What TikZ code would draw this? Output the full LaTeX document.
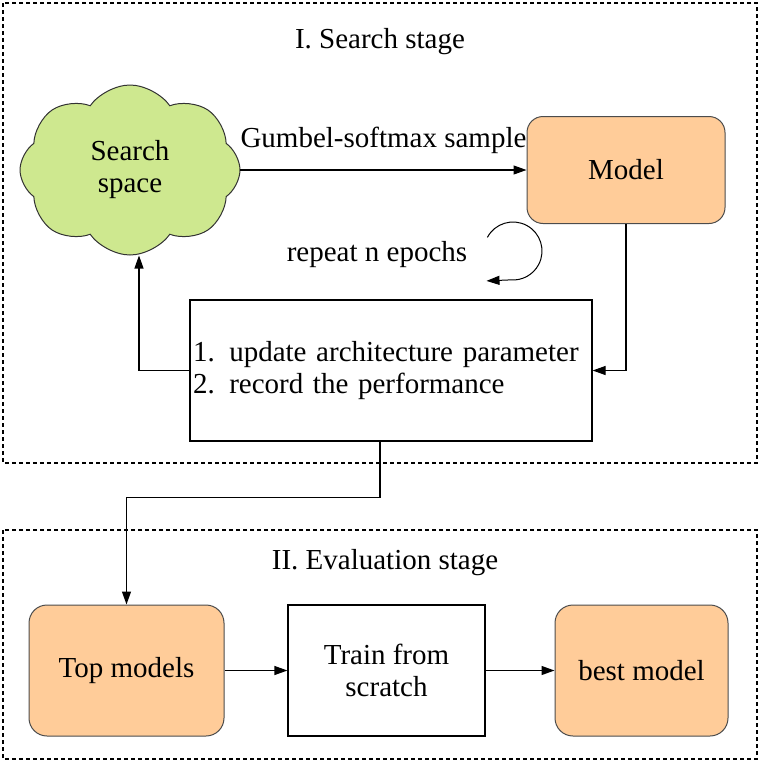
\documentclass[tikz,border=0pt]{standalone}
\usepackage{fontspec}
\setmainfont{Liberation Serif}
\usetikzlibrary{arrows.meta}
\usetikzlibrary{shapes.symbols}
\definecolor{peach}{RGB}{255,204,153}
\definecolor{leaf}{RGB}{206,232,143}

\begin{document}
\begin{tikzpicture}[x=1pt,y=-1pt,
    font=\fontsize{29}{32}\selectfont,
    stage/.style={draw,dash pattern=on 4pt off 3pt,line width=1.2pt},
    soft/.style={draw=black!70,fill=peach,rounded corners=16pt,line width=1pt,align=center},
    plain/.style={draw,line width=1.2pt,align=center},
    link/.style={-{Triangle[length=13pt,width=9pt]},line width=1.2pt}]
  \useasboundingbox (0,0) rectangle (762,763);
  % stage frames
  \draw[stage] (3,3) rectangle (757,463);
  \draw[stage] (3,530) rectangle (757,759);
  \node (search) at (380,42) {I. Search stage};
  \node (eval) at (385,563) {II. Evaluation stage};
  % search stage
  \node[cloud, cloud puffs=8, cloud puff arc=110, cloud ignores aspect, draw=black!80, fill=leaf, line width=1pt,
        minimum width=220pt, minimum height=170pt, align=center] (space) at (130,170) {Search\\space};
  \node[soft, minimum width=198pt, minimum height=107pt] (model) at (626,170) {Model};
  \node[plain, minimum height=141pt, text width=396pt, inner sep=3pt, align=left] (update) at (391,370.5)
       {1. update architecture parameter\\2. record the performance};
  \node (repeat) at (377,255) {repeat n epochs};
  \coordinate (loop) at (513,251);
  \draw[link] (space) -- node[above=12pt] (gumbel) {Gumbel-softmax sample} (model);
  \draw[link] (model.south) |- (update.east);
  \draw[link] (update.west) -| ([xshift=9pt]space.south);
  \draw[-{Triangle[length=13pt,width=9pt]},line width=1pt] ([shift={(208:29)}]loop)
       arc[start angle=208, end angle=455, radius=29] -- ++(-24,1);
  % evaluation stage
  \node[soft, rounded corners=18pt, minimum width=195pt, minimum height=131pt] (top) at (126.5,670.5) {Top models};
  \node[plain, minimum width=197pt, minimum height=131pt] (train) at (386.5,670.5) {Train from\\scratch};
  \node[soft, rounded corners=18pt, minimum width=173pt, minimum height=131pt] (best) at (641.5,670.5) {best model};
  \draw[link] ([xshift=-11pt]update.south) -- ++(0,56) -| (top.north);
  \draw[link] (top) -- (train);
  \draw[link] (train) -- (best);
\end{tikzpicture}
\end{document}
